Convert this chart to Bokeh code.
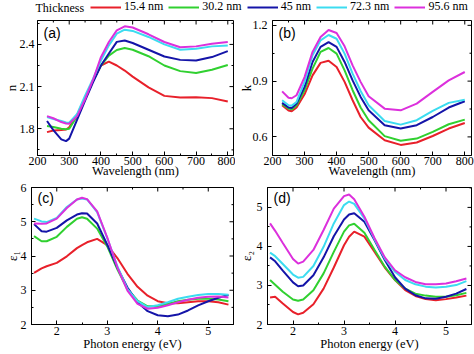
from math import pi
from bokeh.plotting import figure
from bokeh.models import Range1d, FixedTicker, Label, Legend, LegendItem
from bokeh.layouts import column, row
from bokeh.embed import file_html
from bokeh.resources import INLINE

SERIF = "Liberation Serif, Times New Roman, serif"
SANS = "Liberation Sans, Arial, sans-serif"

thickness = ["15.4 nm", "30.2 nm", "45 nm", "72.3 nm", "95.6 nm"]
colors = ["#e8202a", "#30d030", "#1414a8", "#3cdcf0", "#dc30dc"]

# ---- (a) refractive index n vs wavelength (nm)
wl_n = [230, 250, 275, 290, 300, 325, 350, 375, 400, 425, 450, 475, 500, 550, 600, 650, 700, 750, 800]
n_15 = [1.776, 1.788, 1.792, 1.795, 1.810, 1.900, 2.018, 2.142, 2.250, 2.278, 2.250, 2.214, 2.171, 2.094, 2.034, 2.022, 2.025, 2.018, 1.994]
n_30 = [1.819, 1.812, 1.800, 1.797, 1.800, 1.890, 2.010, 2.140, 2.250, 2.320, 2.360, 2.374, 2.362, 2.316, 2.250, 2.210, 2.197, 2.220, 2.254]
n_45 = [1.855, 1.790, 1.725, 1.712, 1.730, 1.865, 2.000, 2.130, 2.250, 2.335, 2.418, 2.428, 2.410, 2.362, 2.314, 2.290, 2.285, 2.310, 2.352]
n_72 = [1.884, 1.870, 1.855, 1.845, 1.843, 1.905, 2.035, 2.154, 2.285, 2.393, 2.476, 2.505, 2.496, 2.453, 2.400, 2.362, 2.369, 2.386, 2.393]
n_95 = [1.890, 1.875, 1.848, 1.838, 1.836, 1.890, 2.010, 2.147, 2.309, 2.417, 2.500, 2.529, 2.520, 2.472, 2.417, 2.380, 2.386, 2.405, 2.417]

# ---- (b) extinction coefficient k vs wavelength (nm)
wl_k = [230, 250, 260, 275, 300, 325, 350, 375, 400, 425, 450, 475, 500, 550, 600, 650, 700, 750, 800]
k_15 = [0.770, 0.742, 0.738, 0.758, 0.829, 0.931, 0.998, 1.010, 0.976, 0.896, 0.797, 0.707, 0.650, 0.582, 0.557, 0.570, 0.605, 0.645, 0.675]
k_30 = [0.776, 0.752, 0.748, 0.770, 0.851, 0.967, 1.057, 1.078, 1.048, 0.958, 0.851, 0.758, 0.690, 0.604, 0.579, 0.591, 0.627, 0.668, 0.693]
k_45 = [0.783, 0.758, 0.755, 0.779, 0.869, 1.003, 1.084, 1.110, 1.084, 1.003, 0.904, 0.815, 0.743, 0.663, 0.645, 0.663, 0.707, 0.758, 0.792]
k_72 = [0.797, 0.770, 0.768, 0.788, 0.896, 1.039, 1.119, 1.148, 1.128, 1.048, 0.940, 0.847, 0.770, 0.686, 0.666, 0.690, 0.740, 0.783, 0.800]
k_95 = [0.845, 0.811, 0.808, 0.824, 0.922, 1.057, 1.137, 1.175, 1.159, 1.087, 0.985, 0.896, 0.819, 0.752, 0.743, 0.779, 0.842, 0.904, 0.949]

# ---- (c) epsilon_1 vs photon energy (eV)
ev_1 = [1.55, 1.7, 1.8, 2.0, 2.2, 2.4, 2.5, 2.6, 2.8, 3.0, 3.2, 3.4, 3.6, 3.8, 4.0, 4.2, 4.4, 4.6, 4.8, 5.0, 5.2, 5.4]
e1_15 = [3.51, 3.64, 3.70, 3.80, 3.99, 4.23, 4.32, 4.40, 4.50, 4.32, 3.94, 3.48, 3.10, 2.84, 2.68, 2.62, 2.62, 2.65, 2.68, 2.68, 2.65, 2.58]
e1_30 = [4.58, 4.43, 4.43, 4.56, 4.85, 5.09, 5.13, 5.09, 4.80, 4.28, 3.61, 3.03, 2.70, 2.53, 2.53, 2.60, 2.68, 2.72, 2.75, 2.75, 2.73, 2.68]
e1_45 = [4.93, 4.72, 4.71, 4.82, 5.04, 5.21, 5.25, 5.24, 4.95, 4.33, 3.66, 3.08, 2.65, 2.39, 2.27, 2.24, 2.29, 2.41, 2.56, 2.68, 2.78, 2.86]
e1_72 = [5.09, 5.01, 4.99, 5.11, 5.43, 5.65, 5.68, 5.65, 5.28, 4.52, 3.70, 3.03, 2.68, 2.51, 2.56, 2.65, 2.75, 2.81, 2.86, 2.89, 2.89, 2.87]
e1_95 = [4.95, 4.94, 4.95, 5.09, 5.40, 5.65, 5.70, 5.66, 5.30, 4.54, 3.67, 2.99, 2.60, 2.46, 2.49, 2.56, 2.65, 2.72, 2.78, 2.81, 2.82, 2.79]

# ---- (d) epsilon_2 vs photon energy (eV)
ev_2 = [1.55, 1.65, 1.8, 2.0, 2.1, 2.2, 2.4, 2.6, 2.8, 3.0, 3.1, 3.2, 3.4, 3.6, 3.8, 4.0, 4.2, 4.4, 4.6, 4.8, 5.0, 5.2, 5.4]
e2_15 = [2.69, 2.71, 2.54, 2.32, 2.26, 2.30, 2.52, 2.92, 3.46, 4.03, 4.25, 4.38, 4.25, 3.86, 3.46, 3.14, 2.88, 2.73, 2.65, 2.62, 2.65, 2.69, 2.74]
e2_30 = [3.14, 3.02, 2.84, 2.64, 2.61, 2.64, 2.88, 3.31, 3.86, 4.38, 4.54, 4.58, 4.35, 3.91, 3.48, 3.14, 2.92, 2.79, 2.74, 2.71, 2.71, 2.75, 2.81]
e2_45 = [3.72, 3.62, 3.38, 3.08, 2.98, 3.00, 3.26, 3.72, 4.26, 4.69, 4.82, 4.85, 4.63, 4.16, 3.65, 3.21, 2.92, 2.75, 2.67, 2.66, 2.71, 2.79, 2.91]
e2_72 = [3.84, 3.75, 3.55, 3.28, 3.20, 3.22, 3.50, 3.99, 4.59, 5.06, 5.15, 5.09, 4.72, 4.18, 3.69, 3.35, 3.14, 3.03, 2.97, 2.95, 2.97, 3.01, 3.11]
e2_95 = [4.59, 4.40, 4.09, 3.68, 3.56, 3.61, 3.91, 4.42, 4.97, 5.29, 5.33, 5.21, 4.76, 4.21, 3.72, 3.39, 3.21, 3.09, 3.03, 3.03, 3.05, 3.11, 3.18]

# tick definitions
wl_ticks, wl_minor = [200, 300, 400, 500, 600, 700, 800], [250, 350, 450, 550, 650, 750]
ev_ticks, ev_minor = [2, 3, 4, 5], [1.5, 2.5, 3.5, 4.5, 5.5]
n_ticks, n_minor = [1.8, 2.1, 2.4], [1.65, 1.95, 2.25, 2.55]
k_ticks, k_minor = [0.6, 0.9, 1.2], [0.75, 1.05]
e1_ticks, e1_minor = [2, 3, 4, 5, 6], [2.5, 3.5, 4.5, 5.5]
e2_ticks, e2_minor = [2, 3, 4, 5], [2.5, 3.5, 4.5, 5.5]


def style_axis(ax, mls, als, label_size):
    ax.axis_line_color = "black"
    ax.axis_line_width = 1
    ax.major_tick_in = 4
    ax.major_tick_out = 0
    ax.minor_tick_in = 2
    ax.minor_tick_out = 0
    ax.major_tick_line_color = "black"
    ax.minor_tick_line_color = "black"
    ax.major_label_text_color = "black"
    ax.major_label_text_font = SERIF
    ax.major_label_text_font_size = "12px"
    ax.major_label_standoff = mls
    ax.axis_label_text_font = SERIF
    ax.axis_label_text_font_size = label_size
    ax.axis_label_text_font_style = "normal"
    ax.axis_label_text_color = "black"
    ax.axis_label_standoff = als


def panel(xs, series, xr, yr, w, h, bl, br, bt, bb, xt, xmin, yt, ymin,
          xlab, ylab, tag, tag_dy, xstand, ystand):
    p = figure(width=w, height=h, x_range=Range1d(*xr), y_range=Range1d(*yr),
               output_backend="svg", toolbar_location=None,
               min_border_left=bl, min_border_right=br,
               min_border_top=bt, min_border_bottom=bb)
    p.xgrid.visible = False
    p.ygrid.visible = False
    p.outline_line_color = "black"
    p.outline_line_width = 1
    p.xaxis.ticker = FixedTicker(ticks=xt, minor_ticks=xmin)
    p.yaxis.ticker = FixedTicker(ticks=yt, minor_ticks=ymin)
    p.xaxis.axis_label = xlab
    p.yaxis.axis_label = ylab
    for ax in p.xaxis:
        style_axis(ax, *xstand, "12.5px")
    for ax in p.yaxis:
        style_axis(ax, *ystand, "13px")
    # mirrored inward ticks on the top and right frame edges (clipped to the frame)
    for ticks, size in ((xt, 8), (xmin, 4)):
        p.scatter(ticks, [yr[1]] * len(ticks), marker="dash", angle=pi / 2,
                  size=size, line_color="black", line_width=1)
    for ticks, size in ((yt, 8), (ymin, 4)):
        p.scatter([xr[1]] * len(ticks), ticks, marker="dash",
                  size=size, line_color="black", line_width=1)
    for ys, c in zip(series, colors):
        p.line(xs, ys, line_color=c, line_width=2)
    fh = h - bt - bb
    p.add_layout(Label(x=6, y=fh - tag_dy, x_units="screen", y_units="screen",
                       text=tag, text_font=SANS, text_font_size="14px",
                       text_baseline="middle", text_align="left", text_color="black"))
    return p


H0, H1, H2 = 17, 163, 174
pa = panel(wl_n, [n_15, n_30, n_45, n_72, n_95], (200, 818), (1.61, 2.57),
           235, H1, 31, 2, 3, 25, wl_ticks, wl_minor, n_ticks, n_minor,
           "Wavelength (nm)", "n", "(a)", 12, (1, -4), (3, -2))
pb = panel(wl_k, [k_15, k_30, k_45, k_72, k_95], (200, 821), (0.5, 1.226),
           239, H1, 32, 3, 3, 25, wl_ticks, wl_minor, k_ticks, k_minor,
           "Wavelength (nm)", "k", "(b)", 12, (1, -4), (5, -4))
pc = panel(ev_1, [e1_15, e1_30, e1_45, e1_72, e1_95], (1.5, 5.5), (2, 6),
           235, H2, 31, 2, 7, 30, ev_ticks, ev_minor, e1_ticks, e1_minor,
           "Photon energy (eV)", "ε₁", "(c)", 10, (2, -1), (5, -2))
pd = panel(ev_2, [e2_15, e2_30, e2_45, e2_72, e2_95], (1.5, 5.5), (2, 5.51),
           239, H2, 32, 3, 7, 30, ev_ticks, ev_minor, e2_ticks, e2_minor,
           "Photon energy (eV)", "ε₂", "(d)", 10, (2, -1), (5, 0))

# legend strip on top (the series lie outside its range; only the key shows)
leg = figure(width=474, height=H0, x_range=Range1d(0, 1), y_range=Range1d(0, 1),
             output_backend="svg", toolbar_location=None, min_border=0)
leg.axis.visible = False
leg.grid.visible = False
leg.outline_line_color = None
rends = [leg.line(wl_n, ys, line_color=c, line_width=2)
         for ys, c in zip([n_15, n_30, n_45, n_72, n_95], colors)]
legend = Legend(items=[LegendItem(label=t, renderers=[r]) for t, r in zip(thickness, rends)],
                orientation="horizontal", location=(90, 3), glyph_width=31,
                glyph_height=12, label_height=12, label_standoff=3, spacing=5,
                padding=0, margin=0, border_line_color=None,
                background_fill_alpha=0, label_text_font=SERIF,
                label_text_font_size="12px", label_text_color="black")
leg.add_layout(legend, "center")
leg.add_layout(Label(x=35, y=9.7, x_units="screen", y_units="screen", text="Thickness",
                     text_font=SERIF, text_font_size="12px", text_baseline="middle",
                     text_color="black"))

layout = column(leg, row(pa, pb), row(pc, pd))
open("out.html", "w").write(file_html(layout, INLINE))
